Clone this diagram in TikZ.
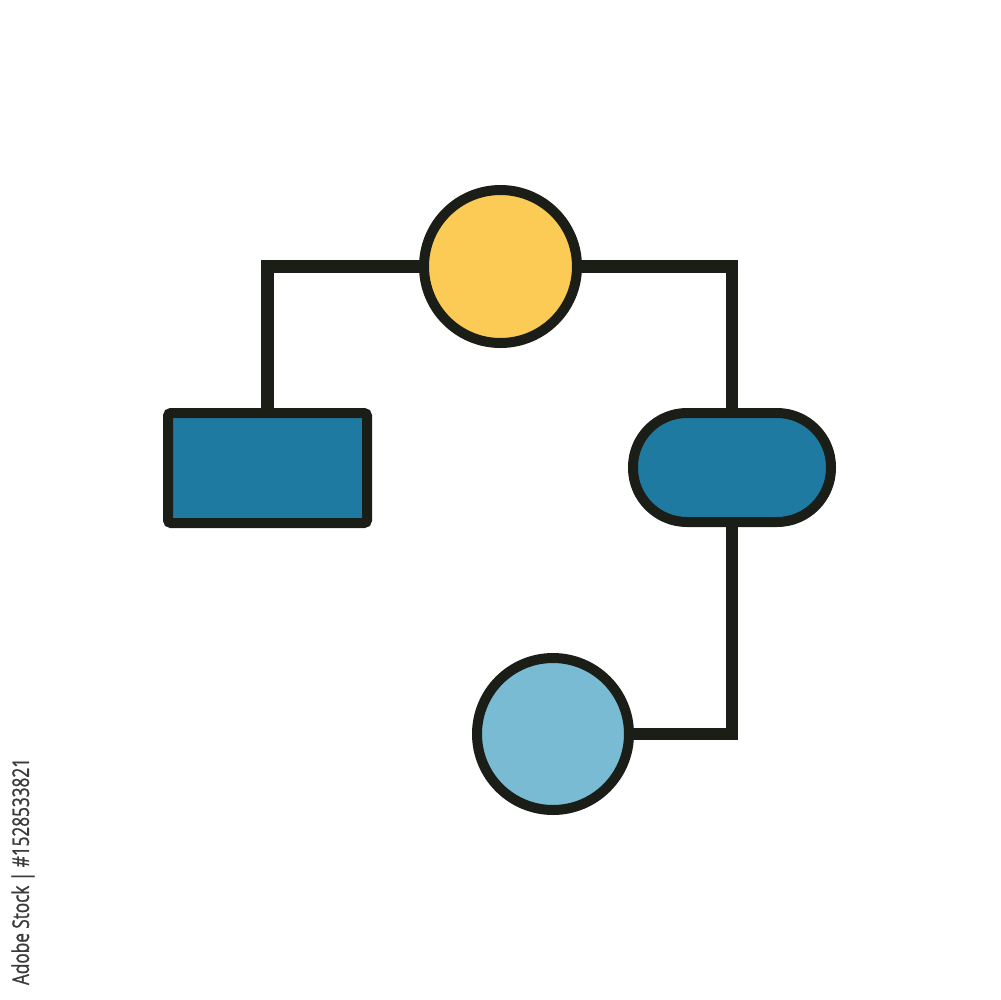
\documentclass[tikz,border=0pt]{standalone}
\usepackage{fontspec}
\setmainfont{Open Sans}
\usetikzlibrary{backgrounds}
\definecolor{ink}{HTML}{1B1D17}
\definecolor{yel}{HTML}{FCCB55}
\definecolor{dblue}{HTML}{1F7AA2}
\definecolor{lblue}{HTML}{78BBD3}
\definecolor{wm}{HTML}{3A3A3A}
\tikzset{
  shapeline/.style={draw=ink, line width=1mm, inner sep=0pt, outer sep=0pt},
  roundnode/.style={shapeline, circle},
  boxnode/.style={shapeline, rectangle, rounded corners=0.3mm},
  pillnode/.style={shapeline, rectangle, rounded corners=5.4mm},
  wire/.style={draw=ink, line width=1.25mm, line join=miter}
}
\begin{document}
\begin{tikzpicture}[x=0.1mm,y=-0.1mm]
\useasboundingbox (0,0) rectangle (1000,1000);
\node[roundnode, fill=yel, minimum size=15.3mm] (top) at (500.5,266.5) {};
\node[boxnode, fill=dblue, minimum width=19.9mm, minimum height=11mm] (rect) at (267.5,468) {};
\node[pillnode, fill=dblue, minimum width=19.8mm, minimum height=10.9mm] (pill) at (732,467.5) {};
\node[roundnode, fill=lblue, minimum size=15.2mm] (bot) at (553,734) {};
\begin{scope}[on background layer]
\draw[wire] (top.west) -| (rect.north);
\draw[wire] (top.east) -| (pill.north);
\draw[wire] (pill.south) |- (bot.east);
\end{scope}
\node[rotate=90, inner sep=0pt, text=wm] (mark) at (23,871.5) {\resizebox{22.7mm}{1.75mm}{\fontspec{Open Sans}[FakeBold=1.2]Adobe Stock | \#1528533821}};
\end{tikzpicture}
\end{document}
